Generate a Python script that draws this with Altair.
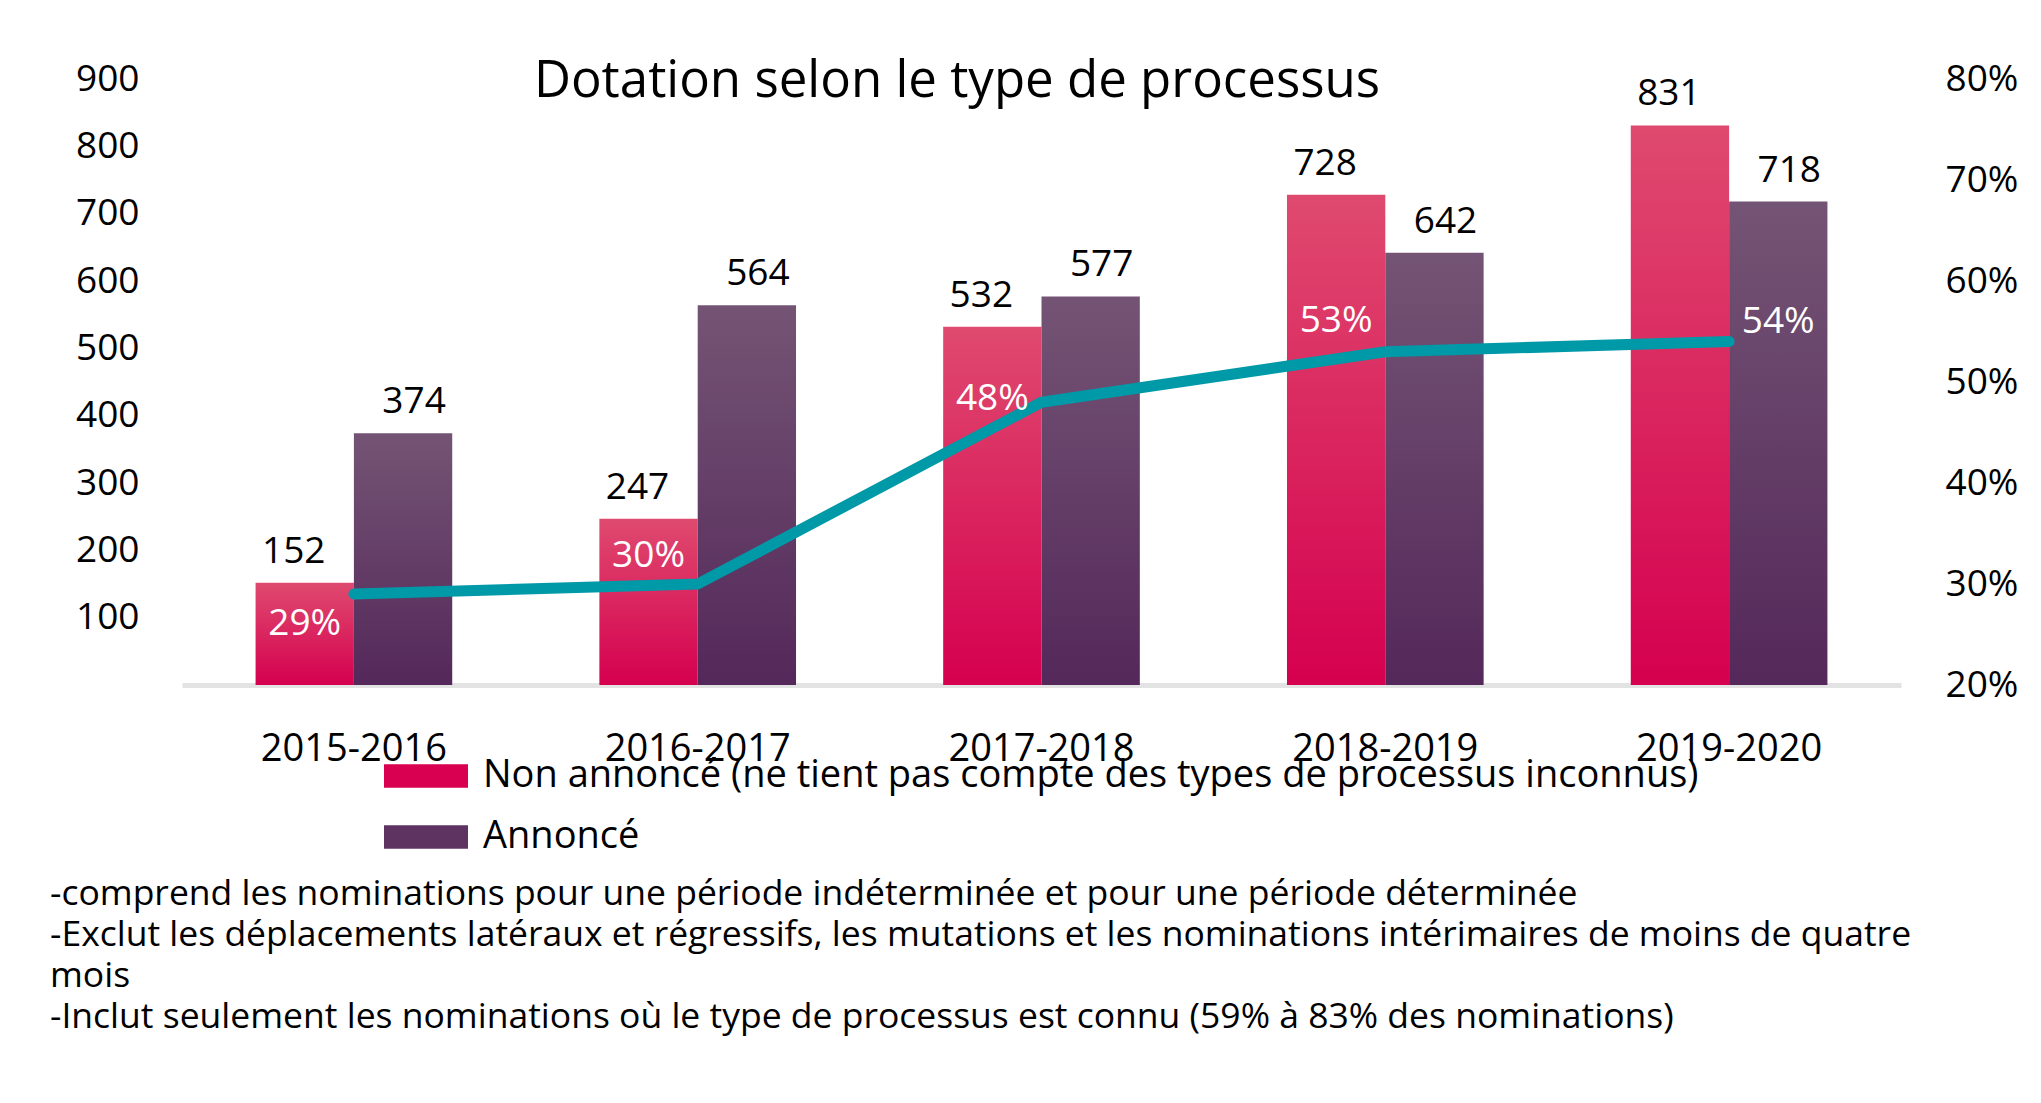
import altair as alt
import pandas as pd

# ---------------- data ----------------
categories = ["2015-2016", "2016-2017", "2017-2018", "2018-2019", "2019-2020"]
series_names = ["Non annoncé (ne tient pas compte des types de processus inconnus)", "Annoncé"]
non_annonce = [152, 247, 532, 728, 831]
annonce = [374, 564, 577, 642, 718]
pct_annonce = [0.29, 0.30, 0.48, 0.53, 0.54]
pct_labels = ["29%", "30%", "48%", "53%", "54%"]
left_ticks = [100, 200, 300, 400, 500, 600, 700, 800, 900]
right_ticks = [0.2, 0.3, 0.4, 0.5, 0.6, 0.7, 0.8]
title_text = "Dotation selon le type de processus"
notes_lines = [
    "-comprend les nominations pour une période indéterminée et pour une période déterminée",
    "-Exclut les déplacements latéraux et régressifs, les mutations et les nominations intérimaires de moins de quatre",
    "mois",
    "-Inclut seulement les nominations où le type de processus est connu (59% à 83% des nominations)",
]

# label placement (style): which bar each % label sits on, and vertical shift in % units
pct_label_bar = [series_names[0]] * 4 + [series_names[1]]
pct_label_shift = [-0.030, 0.0275, 0.003, 0.030, 0.019]

FONT = "Open Sans"
FS = 37

bars_df = pd.DataFrame({
    "cat": categories * 2,
    "series": [series_names[0]] * 5 + [series_names[1]] * 5,
    "value": non_annonce + annonce,
})
pct_df = pd.DataFrame({
    "cat": categories,
    "pct": pct_annonce,
    "label": pct_labels,
    "bar": pct_label_bar,
    "label_y": [p + s for p, s in zip(pct_annonce, pct_label_shift)],
})

x_enc = alt.X("cat:N", sort=categories,
              scale=alt.Scale(paddingInner=0.428, paddingOuter=0.214),
              axis=alt.Axis(title=None, labelAngle=0, ticks=False, domain=True,
                            domainColor="#E3E3E3", domainWidth=5, labelPadding=45,
                            labelFontSize=38, labelFont=FONT, labelColor="black", grid=False,
                            labelLimit=1000))
xoff = alt.XOffset("series:N", sort=series_names,
                   scale=alt.Scale(domain=series_names, paddingInner=0, paddingOuter=0))
y_left = alt.Y("value:Q", scale=alt.Scale(domain=[0, 900], nice=False, zero=True),
               axis=alt.Axis(title=None, values=left_ticks, grid=False, ticks=False, domain=False,
                             labelFontSize=FS, labelFont=FONT, labelColor="black", labelPadding=43))

gradients = [
    alt.LinearGradient(gradient="linear", x1=0, x2=0, y1=0, y2=1,
                       stops=[alt.GradientStop(color="#DF4A6F", offset=0),
                              alt.GradientStop(color="#D5004F", offset=1)]),
    alt.LinearGradient(gradient="linear", x1=0, x2=0, y1=0, y2=1,
                       stops=[alt.GradientStop(color="#745474", offset=0),
                              alt.GradientStop(color="#54285A", offset=1)]),
]
label_dx = [-11, 11]

base = alt.Chart(bars_df)
bar_layers = []
label_layers = []
for i, s in enumerate(series_names):
    sub = base.transform_filter(alt.datum.series == s)
    bar_layers.append(sub.mark_bar(color=gradients[i]).encode(x=x_enc, xOffset=xoff, y=y_left))
    label_layers.append(sub.mark_text(font=FONT, fontSize=FS, color="black", baseline="alphabetic",
                                      dy=-20, dx=label_dx[i])
                        .encode(x=x_enc, xOffset=xoff, y=y_left, text=alt.Text("value:Q")))

legend_layer = base.mark_square(size=0).encode(
    x=x_enc, xOffset=xoff, y=y_left,
    color=alt.Color("series:N", sort=series_names,
                    scale=alt.Scale(domain=series_names, range=["#D90052", "#5E3362"]),
                    legend=alt.Legend(title=None, orient="none", legendX=202, legendY=655,
                                      direction="vertical", columns=1,
                                      symbolType="M-1,-0.28H1V0.28H-1Z", symbolSize=7056,
                                      symbolStrokeWidth=0, symbolOpacity=1,
                                      labelFont=FONT, labelFontSize=38, labelColor="black",
                                      labelOffset=15, rowPadding=-13, padding=0,
                                      labelLimit=2000)))

one = pd.DataFrame({"k": [0]})
title_layer = alt.Chart(one).mark_text(text=title_text, font=FONT, fontSize=51, color="black",
                                       align="center", baseline="alphabetic").encode(
    x=alt.value(775), y=alt.value(18))
notes_layer = alt.Chart(one).mark_text(text=notes_lines, font=FONT, fontSize=35.5, color="black",
                                       align="left", baseline="alphabetic", lineHeight=41).encode(
    x=alt.value(-132), y=alt.value(826))

left_group = alt.layer(*bar_layers, *label_layers, legend_layer, title_layer, notes_layer)

y_right_scale = alt.Scale(domain=[0.2, 0.8], nice=False, zero=False)
pbase = alt.Chart(pct_df)
line = pbase.mark_line(color="#0099A8", strokeWidth=11, strokeCap="round", strokeJoin="round").encode(
    x=x_enc,
    y=alt.Y("pct:Q", scale=y_right_scale,
            axis=alt.Axis(title=None, orient="right", values=right_ticks, format=".0%", grid=False,
                          ticks=False, domain=False, labelFontSize=FS, labelFont=FONT,
                          labelColor="black", labelPadding=44, labelAlign="left")))
pct_text = pbase.mark_text(font=FONT, fontSize=FS, color="white", baseline="middle").encode(
    x=x_enc,
    xOffset=alt.XOffset("bar:N", sort=series_names,
                        scale=alt.Scale(domain=series_names, paddingInner=0, paddingOuter=0)),
    y=alt.Y("label_y:Q", scale=y_right_scale),
    text="label:N")
right_group = alt.layer(line, pct_text)

chart = alt.layer(left_group, right_group).resolve_scale(y="independent").properties(
    width=1719, height=606,
    autosize=alt.AutoSizeParams(type="none"),
    padding={"left": 174, "top": 71, "right": 132, "bottom": 410},
    background="white",
).configure_view(stroke=None)

chart.save("out.html", embed_options={"renderer": "svg", "actions": False})
